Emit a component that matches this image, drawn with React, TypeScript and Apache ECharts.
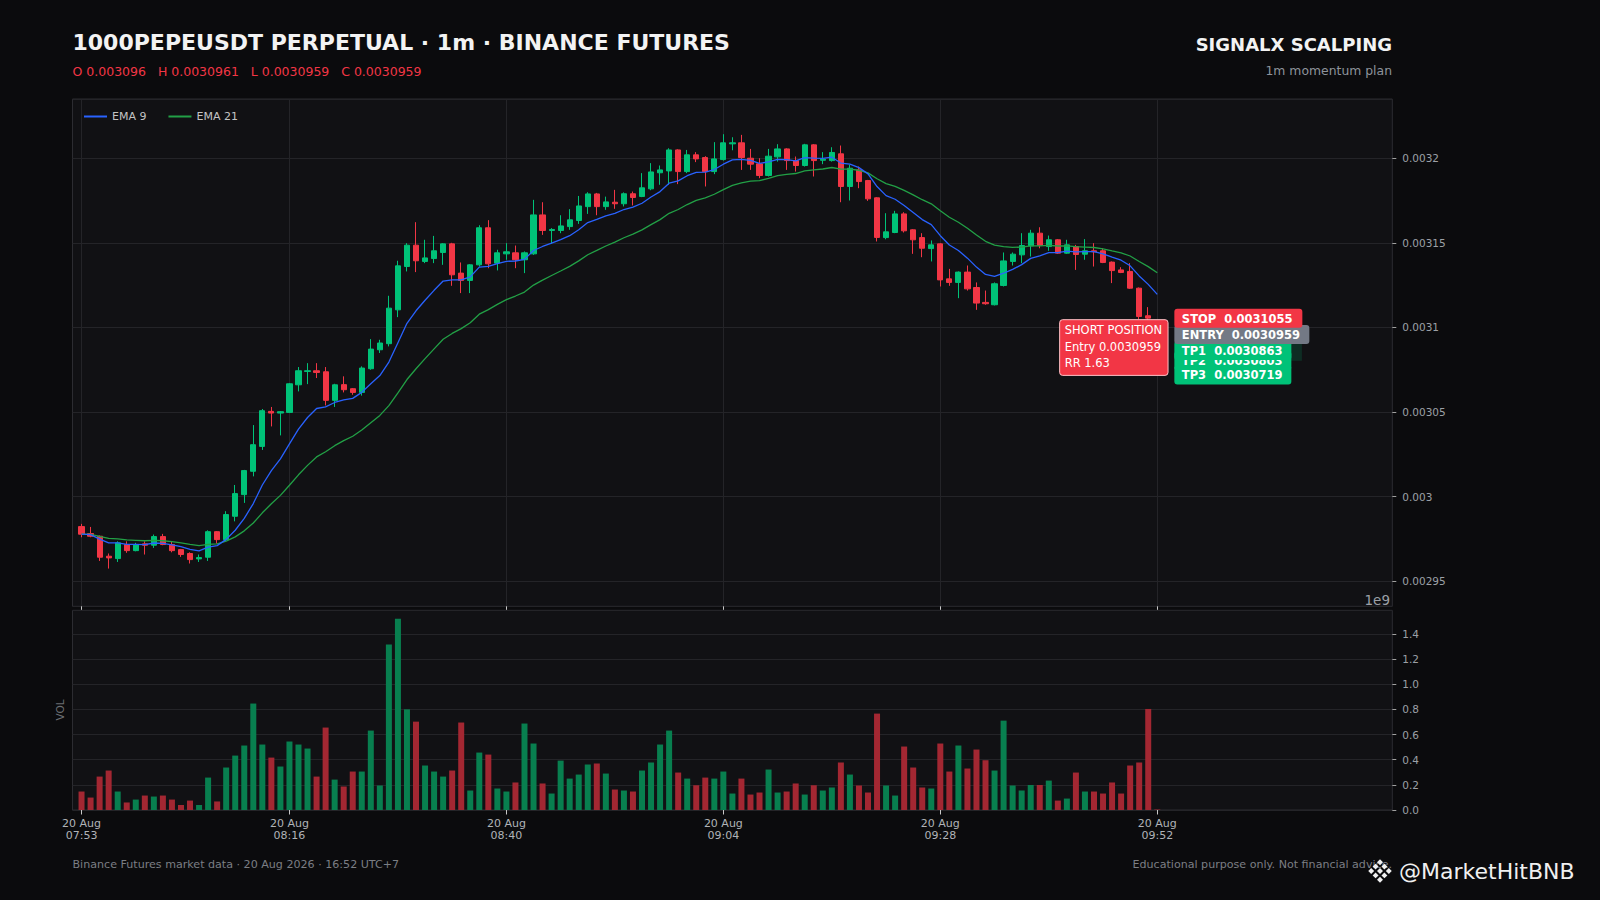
import React, { useEffect, useRef } from 'react';
import * as echarts from 'echarts';

// ---------------- DATA ----------------
const OPEN = [
  0.0029823, 0.0029782, 0.0029766, 0.0029648, 0.0029634, 0.0029717, 0.0029681, 0.0029721, 0.0029713, 0.0029764,
  0.0029717, 0.0029687, 0.0029664, 0.0029632, 0.0029642, 0.0029793, 0.0029746, 0.0029884, 0.0030012, 0.003015,
  0.0030297, 0.0030504, 0.0030494, 0.0030498, 0.0030661, 0.003074, 0.0030744, 0.0030738, 0.0030569, 0.0030662,
  0.0030638, 0.0030616, 0.0030756, 0.0030868, 0.0030904, 0.0031104, 0.003136, 0.0031486, 0.003139, 0.0031407,
  0.0031443, 0.0031494, 0.0031321, 0.0031278, 0.003137, 0.0031589, 0.003138, 0.0031435, 0.0031441, 0.00314,
  0.0031435, 0.0031665, 0.0031573, 0.0031573, 0.0031596, 0.0031632, 0.0031714, 0.0031789, 0.0031714, 0.003174,
  0.0031731, 0.003179, 0.0031774, 0.0031819, 0.0031914, 0.0031925, 0.0032049, 0.0031921, 0.003202, 0.0032004,
  0.0031921, 0.0031992, 0.0032085, 0.0032091, 0.0032, 0.0031967, 0.0031898, 0.0032008, 0.0032055, 0.0031986,
  0.0031957, 0.0032079, 0.0031988, 0.0031986, 0.0032026, 0.0031833, 0.0031931, 0.0031868, 0.0031766, 0.0031531,
  0.0031561, 0.0031671, 0.0031577, 0.0031531, 0.0031466, 0.0031494, 0.0031287, 0.0031266, 0.0031327, 0.0031236,
  0.0031148, 0.0031134, 0.0031248, 0.003139, 0.0031429, 0.0031482, 0.0031557, 0.0031478, 0.0031518, 0.0031439,
  0.0031478, 0.0031433, 0.0031453, 0.0031453, 0.0031386, 0.003134, 0.0031331, 0.0031232, 0.0031069, 0.003096,
];
const HIGH = [
  0.0029839, 0.0029821, 0.002977, 0.0029664, 0.0029736, 0.0029736, 0.0029727, 0.0029736, 0.0029776, 0.002978,
  0.0029736, 0.0029691, 0.0029671, 0.0029658, 0.0029801, 0.0029797, 0.0029914, 0.0030069, 0.0030158, 0.0030423,
  0.0030518, 0.003053, 0.0030506, 0.0030671, 0.0030766, 0.0030789, 0.0030789, 0.0030766, 0.0030667, 0.0030711,
  0.0030642, 0.003077, 0.0030931, 0.0030927, 0.0031187, 0.0031394, 0.0031498, 0.0031622, 0.0031518, 0.0031541,
  0.0031498, 0.00315, 0.0031384, 0.0031374, 0.0031604, 0.0031634, 0.0031459, 0.0031498, 0.0031484, 0.0031449,
  0.0031754, 0.003174, 0.0031587, 0.0031663, 0.0031699, 0.0031777, 0.0031799, 0.0031795, 0.0031773, 0.0031813,
  0.0031798, 0.0031803, 0.0031912, 0.0031971, 0.0031957, 0.0032059, 0.0032053, 0.0032049, 0.0032036, 0.0032012,
  0.0032095, 0.0032142, 0.0032124, 0.0032138, 0.0032055, 0.0032, 0.0032055, 0.0032083, 0.0032059, 0.003201,
  0.0032085, 0.0032083, 0.0032036, 0.0032065, 0.0032075, 0.0031961, 0.0031951, 0.0031872, 0.003177, 0.0031675,
  0.0031689, 0.0031681, 0.0031581, 0.0031557, 0.0031514, 0.0031498, 0.0031346, 0.0031331, 0.0031366, 0.0031266,
  0.0031218, 0.0031266, 0.0031443, 0.0031443, 0.0031557, 0.0031577, 0.0031592, 0.0031543, 0.0031522, 0.0031518,
  0.0031488, 0.0031522, 0.0031498, 0.0031468, 0.003139, 0.0031356, 0.003138, 0.0031236, 0.003112, 0.0030961,
];
const LOW = [
  0.002976, 0.002976, 0.002962, 0.0029575, 0.0029614, 0.0029668, 0.0029677, 0.0029658, 0.0029697, 0.0029713,
  0.0029671, 0.0029644, 0.0029605, 0.0029614, 0.002962, 0.0029723, 0.0029736, 0.0029854, 0.0029963, 0.003012,
  0.0030276, 0.0030415, 0.0030362, 0.0030494, 0.0030622, 0.0030665, 0.0030701, 0.0030539, 0.003053, 0.0030616,
  0.0030602, 0.0030597, 0.003075, 0.0030849, 0.0030888, 0.0031061, 0.0031331, 0.0031327, 0.003138, 0.003138,
  0.003137, 0.0031246, 0.0031203, 0.0031203, 0.003136, 0.003135, 0.0031337, 0.00314, 0.003135, 0.0031321,
  0.0031429, 0.0031547, 0.0031494, 0.0031557, 0.0031577, 0.0031612, 0.0031671, 0.0031663, 0.0031695, 0.0031701,
  0.0031715, 0.0031721, 0.003177, 0.0031811, 0.0031843, 0.0031843, 0.0031847, 0.0031912, 0.0031977, 0.0031833,
  0.0031906, 0.0031986, 0.0032047, 0.0031931, 0.0031931, 0.0031882, 0.0031892, 0.003198, 0.0031931, 0.0031921,
  0.0031951, 0.0031892, 0.0031965, 0.003198, 0.003174, 0.003175, 0.0031823, 0.0031748, 0.0031508, 0.0031521,
  0.0031557, 0.0031561, 0.0031435, 0.0031415, 0.003139, 0.0031242, 0.0031246, 0.0031173, 0.0031218, 0.0031104,
  0.0031134, 0.003113, 0.0031242, 0.0031366, 0.003138, 0.0031419, 0.0031468, 0.0031453, 0.0031435, 0.0031435,
  0.003134, 0.00314, 0.003136, 0.003138, 0.0031262, 0.0031321, 0.0031228, 0.0031049, 0.0031045, 0.0030959,
];
const CLOSE = [
  0.0029778, 0.0029766, 0.0029642, 0.0029638, 0.0029727, 0.0029681, 0.0029717, 0.0029713, 0.0029764, 0.0029717,
  0.0029681, 0.0029658, 0.0029628, 0.002964, 0.0029793, 0.0029746, 0.0029894, 0.0030018, 0.0030154, 0.0030307,
  0.0030508, 0.0030494, 0.0030502, 0.0030667, 0.0030744, 0.0030744, 0.0030734, 0.0030569, 0.0030661, 0.0030632,
  0.0030616, 0.003076, 0.0030872, 0.0030908, 0.0031114, 0.0031364, 0.0031486, 0.0031394, 0.0031411, 0.0031453,
  0.0031494, 0.0031311, 0.0031278, 0.003137, 0.0031589, 0.0031376, 0.0031441, 0.0031447, 0.00314, 0.0031441,
  0.0031665, 0.0031573, 0.0031579, 0.00316, 0.0031636, 0.0031718, 0.0031789, 0.0031714, 0.0031742, 0.0031731,
  0.003179, 0.0031768, 0.0031825, 0.0031919, 0.0031931, 0.0032049, 0.0031921, 0.003202, 0.0031996, 0.0031921,
  0.0031996, 0.0032091, 0.0032091, 0.0032004, 0.0031965, 0.0031898, 0.0032012, 0.0032055, 0.0031986, 0.0031957,
  0.0032079, 0.0031986, 0.0031994, 0.0032034, 0.0031833, 0.0031941, 0.0031862, 0.003176, 0.0031532, 0.0031565,
  0.0031671, 0.0031571, 0.0031518, 0.0031468, 0.0031488, 0.0031281, 0.0031266, 0.0031327, 0.0031228, 0.0031144,
  0.003114, 0.0031258, 0.0031393, 0.0031433, 0.0031484, 0.0031557, 0.0031484, 0.0031518, 0.0031439, 0.0031488,
  0.0031431, 0.0031453, 0.0031447, 0.0031384, 0.0031336, 0.0031325, 0.0031232, 0.0031065, 0.0031055, 0.0030959,
];
// volume in billions (axis offset 1e9)
const VOLUME = [
  0.147, 0.099, 0.266, 0.314, 0.147, 0.06, 0.083, 0.115, 0.107, 0.115,
  0.083, 0.04, 0.075, 0.04, 0.258, 0.068, 0.338, 0.433, 0.513, 0.847,
  0.521, 0.417, 0.346, 0.545, 0.521, 0.489, 0.266, 0.656, 0.242, 0.187,
  0.306, 0.306, 0.632, 0.195, 1.316, 1.522, 0.801, 0.703, 0.354, 0.306,
  0.266, 0.314, 0.696, 0.155, 0.457, 0.441, 0.171, 0.147, 0.219, 0.688,
  0.529, 0.211, 0.131, 0.393, 0.25, 0.282, 0.362, 0.37, 0.29, 0.163,
  0.155, 0.147, 0.314, 0.378, 0.521, 0.632, 0.298, 0.25, 0.197, 0.258,
  0.25, 0.306, 0.131, 0.25, 0.123, 0.139, 0.322, 0.139, 0.147, 0.211,
  0.123, 0.197, 0.155, 0.179, 0.378, 0.282, 0.195, 0.139, 0.767, 0.195,
  0.115, 0.505, 0.338, 0.179, 0.171, 0.529, 0.306, 0.513, 0.33, 0.481,
  0.396, 0.314, 0.711, 0.195, 0.155, 0.199, 0.199, 0.234, 0.075, 0.091,
  0.298, 0.147, 0.147, 0.131, 0.219, 0.131, 0.354, 0.378, 0.804, 0.004,
];
const TICK_INDEX = [0, 23, 47, 71, 95, 119];
const TICK_LABELS = ['20 Aug\n07:53', '20 Aug\n08:16', '20 Aug\n08:40', '20 Aug\n09:04', '20 Aug\n09:28', '20 Aug\n09:52'];
const SLOT_FIRST = -1; // empty slot before the first candle
const SLOT_LAST = 145; // future slots after the last candle
const STOP = 0.0031055;
const ENTRY = 0.0030959;
const TP1 = 0.0030863;
const TP2 = 0.0030803;
const TP3 = 0.0030719;
const RR = '1.63';
const ZONE_FROM = 121;
const ZONE_TO = 135;
const PRICE_MIN = 0.0029352;
const PRICE_MAX = 0.003235;
const VOL_MAX = 1.589;

// ---------------- STYLE ----------------
const FONT = '"DejaVu Sans", Verdana, sans-serif';
const GREEN = '#00c278';
const RED = '#f23645';
const GREY_BOX = '#737985';
const VOL_G = '#087f4f';
const VOL_R = '#a32732';
const BG = '#0b0b0d';
const PANEL = '#111114';
const BORDER = '#2c2c31';
const GRIDC = '#242428';

function ema(src: number[], n: number): number[] {
  const k = 2 / (n + 1);
  const out: number[] = [];
  let prev = src[0];
  src.forEach((v, i) => {
    prev = i === 0 ? v : v * k + prev * (1 - k);
    out.push(prev);
  });
  return out;
}

const slots: string[] = [];
for (let s = SLOT_FIRST; s <= SLOT_LAST; s++) slots.push(String(s));
const slotOf = (i: number) => i - SLOT_FIRST;
const isTick = (index: number) => TICK_INDEX.includes(index + SLOT_FIRST);

function buildOption(): any {
  const ema9 = ema(CLOSE, 9);
  const ema21 = ema(CLOSE, 21);
  const candles = OPEN.map((o, i) => [slotOf(i), o, CLOSE[i], LOW[i], HIGH[i]]);
  const vols = VOLUME.map((v, i) => ({
    value: [slotOf(i), v],
    itemStyle: { color: CLOSE[i] >= OPEN[i] ? VOL_G : VOL_R },
  }));
  const xBase = {
    type: 'category',
    data: slots,
    boundaryGap: false,
    axisLine: { show: false },
    axisPointer: { show: false },
  };
  return {
    animation: false,
    backgroundColor: BG,
    textStyle: { fontFamily: FONT },
    legend: {
      left: 79,
      top: 106,
      icon: 'rect',
      itemWidth: 23,
      itemHeight: 2,
      itemGap: 22,
      textStyle: { color: '#c4c4c4', fontSize: 11, fontFamily: FONT },
      data: ['EMA 9', 'EMA 21'],
      selectedMode: false,
    },
    grid: [
      { left: 72.5, top: 99, width: 1319.8, height: 507.3, show: true, backgroundColor: PANEL, borderColor: BORDER, borderWidth: 1, containLabel: false, outerBoundsMode: 'none' },
      { left: 72.5, top: 610.3, width: 1319.8, height: 199.7, show: true, backgroundColor: PANEL, borderColor: BORDER, borderWidth: 1, containLabel: false, outerBoundsMode: 'none' },
    ],
    xAxis: [
      {
        ...xBase,
        gridIndex: 0,
        axisTick: { show: true, interval: isTick, length: 3.5, lineStyle: { color: '#c8c8c8' } },
        axisLabel: { show: false, interval: isTick },
        splitLine: { show: true, interval: isTick, lineStyle: { color: GRIDC, width: 1 } },
      },
      {
        ...xBase,
        gridIndex: 1,
        axisTick: { show: true, interval: isTick, length: 4.5, lineStyle: { color: '#c8c8c8' } },
        axisLabel: {
          show: true,
          interval: isTick,
          color: '#b0b3b8',
          fontSize: 11,
          lineHeight: 11.5,
          margin: 8,
          fontFamily: FONT,
          formatter: (v: string) => {
            const k = TICK_INDEX.indexOf(Number(v));
            return k >= 0 ? TICK_LABELS[k] : '';
          },
        },
        splitLine: { show: false },
      },
    ],
    yAxis: [
      {
        type: 'value',
        gridIndex: 0,
        position: 'right',
        min: PRICE_MIN,
        max: PRICE_MAX,
        splitNumber: 6,
        axisLine: { show: false },
        axisTick: { show: true, length: 4, lineStyle: { color: '#a0a0a0' } },
        axisLabel: {
          color: '#9ca0a6',
          fontSize: 10.5,
          margin: 10,
          fontFamily: FONT,
          showMinLabel: false,
          showMaxLabel: false,
          formatter: (v: number) => String(parseFloat(v.toPrecision(6))),
        },
        splitLine: { show: true, lineStyle: { color: GRIDC } },
      },
      {
        type: 'value',
        gridIndex: 1,
        position: 'right',
        min: 0,
        max: VOL_MAX,
        interval: 0.2,
        axisLine: { show: false },
        axisTick: { show: true, length: 4, lineStyle: { color: '#a0a0a0' } },
        axisLabel: {
          color: '#9ca0a6',
          fontSize: 10.5,
          margin: 10,
          fontFamily: FONT,
          showMaxLabel: false,
          formatter: (v: number) => v.toFixed(1),
        },
        splitLine: { show: true, lineStyle: { color: GRIDC } },
      },
    ],
    series: [
      {
        type: 'candlestick',
        name: 'price',
        xAxisIndex: 0,
        yAxisIndex: 0,
        data: candles,
        encode: { x: 0, y: [1, 2, 3, 4] },
        barWidth: 5.7,
        itemStyle: { color: GREEN, color0: RED, borderColor: GREEN, borderColor0: RED, borderWidth: 1 },
        z: 2,
        markLine: {
          silent: true,
          symbol: ['none', 'none'],
          label: { show: false },
          data: [
            { yAxis: STOP, lineStyle: { color: RED, type: [5, 4], width: 1, opacity: 0.9 } },
            { yAxis: ENTRY, lineStyle: { color: '#e8e8e8', type: [4, 2], width: 1.2, opacity: 0.95 } },
            { yAxis: TP1, lineStyle: { color: GREEN, type: [5, 4], width: 1, opacity: 0.75 } },
            { yAxis: TP2, lineStyle: { color: GREEN, type: [5, 4], width: 1, opacity: 0.75 } },
            { yAxis: TP3, lineStyle: { color: GREEN, type: [5, 4], width: 1, opacity: 0.75 } },
          ],
        },
        markArea: {
          silent: true,
          itemStyle: { color: 'rgba(0,194,120,0.16)' },
          data: [[{ coord: [slotOf(ZONE_FROM), ENTRY] }, { coord: [slotOf(ZONE_TO), TP2] }]],
        },
      },
      {
        type: 'line',
        name: 'EMA 9',
        xAxisIndex: 0,
        yAxisIndex: 0,
        data: ema9.map((v, i) => [slotOf(i), v]),
        symbol: 'none',
        lineStyle: { color: '#2962ff', width: 1.3 },
        itemStyle: { color: '#2962ff' },
        z: 4,
      },
      {
        type: 'line',
        name: 'EMA 21',
        xAxisIndex: 0,
        yAxisIndex: 0,
        data: ema21.map((v, i) => [slotOf(i), v]),
        symbol: 'none',
        lineStyle: { color: '#22a046', width: 1.3 },
        itemStyle: { color: '#22a046' },
        z: 3,
      },
      {
        type: 'bar',
        name: 'volume',
        xAxisIndex: 1,
        yAxisIndex: 1,
        data: vols,
        barWidth: 6,
      },
    ],
  };
}

function txt(text: string, x: number, y: number, size: number, fill: string, opts: any = {}): any {
  return {
    type: 'text',
    z: opts.z ?? 50,
    rotation: opts.rotation ?? 0,
    x: opts.rotation ? x : 0,
    y: opts.rotation ? y : 0,
    style: {
      text,
      x: opts.rotation ? 0 : x,
      y: opts.rotation ? 0 : y,
      fill,
      fontSize: size,
      fontWeight: opts.bold ? 'bold' : 'normal',
      fontFamily: FONT,
      align: opts.align ?? 'left',
      verticalAlign: 'middle',
      opacity: opts.opacity ?? 1,
    },
  };
}

function buildGraphic(chart: any): any[] {
  const px = (i: number, v: number) => chart.convertToPixel({ gridIndex: 0 }, [slotOf(i), v]) as number[];
  const n = CLOSE.length;
  const els: any[] = [];

  // header
  els.push(txt('1000PEPEUSDT PERPETUAL · 1m · BINANCE FUTURES', 72.5, 42.5, 22, '#f3f3f3', { bold: true }));
  els.push(txt(`O ${OPEN[n - 1]}   H ${HIGH[n - 1]}   L ${LOW[n - 1]}   C ${CLOSE[n - 1]}`, 72.5, 71.5, 12.5, RED));
  els.push(txt('SIGNALX SCALPING', 1392, 44, 18, '#f3f3f3', { bold: true, align: 'right' }));
  els.push(txt('1m momentum plan', 1392, 70, 12.4, '#8e939b', { align: 'right' }));

  // footer
  els.push(txt('Binance Futures market data · 20 Aug 2026 · 16:52 UTC+7', 72.5, 864.5, 11.1, '#7b7e84'));
  els.push(txt('Educational purpose only. Not financial advice.', 1392, 864.5, 11.1, '#7b7e84', { align: 'right' }));

  // axis extras
  els.push(txt('1e9', 1390, 600, 13.5, '#9ca0a6', { align: 'right' }));
  els.push(txt('VOL', 60, 710, 10.5, '#6b6e73', { align: 'center', rotation: Math.PI / 2 }));

  // level labels
  const labelX = px(ZONE_FROM, ENTRY)[0] - 1;
  const boxH = 19;
  const boxes = [
    { text: `TP2  ${TP2.toFixed(7)}`, v: TP2, bg: GREEN, w: 117 },
    { text: `TP3  ${TP3.toFixed(7)}`, v: TP3, bg: GREEN, w: 117 },
    { text: `TP1  ${TP1.toFixed(7)}`, v: TP1, bg: GREEN, w: 117 },
    { text: `ENTRY  ${ENTRY.toFixed(7)}`, v: ENTRY, bg: GREY_BOX, w: 135 },
    { text: `STOP  ${STOP.toFixed(7)}`, v: STOP, bg: RED, w: 128 },
  ];
  boxes.forEach((b, k) => {
    const y = px(ZONE_FROM, b.v)[1];
    els.push({
      type: 'rect',
      z: 100 + k * 2,
      shape: { x: labelX, y: y - boxH / 2, width: b.w, height: boxH, r: 3 },
      style: { fill: b.bg },
    });
    els.push(txt(b.text, labelX + 7.5, y + 0.5, 11.5, '#ffffff', { bold: true, z: 101 + k * 2 }));
  });

  // position box
  const ey = px(ZONE_FROM, ENTRY)[1];
  const bw = 108.4;
  const bx = labelX - 6.3 - bw;
  els.push({
    type: 'rect',
    z: 90,
    shape: { x: bx, y: ey - 14.7, width: bw, height: 55.7, r: 3 },
    style: { fill: RED, stroke: '#ffc0c6', lineWidth: 1 },
  });
  els.push(txt('SHORT POSITION', bx + 5, ey - 4.5, 11.5, '#ffffff', { z: 91 }));
  els.push(txt(`Entry ${ENTRY.toFixed(7)}`, bx + 5, ey + 12.8, 11.5, '#ffffff', { z: 91 }));
  els.push(txt(`RR ${RR}`, bx + 5, ey + 28.4, 11.5, '#ffffff', { z: 91 }));

  // watermark
  const cx = 1380, cy = 871;
  const d = 4.4;
  [[0, -2], [-1, -1], [1, -1], [-2, 0], [0, 0], [2, 0], [-1, 1], [1, 1], [0, 2]].forEach(([a, b]) => {
    els.push({
      type: 'rect',
      z: 120,
      x: cx + a * d,
      y: cy + b * d,
      rotation: Math.PI / 4,
      shape: { x: -2.1, y: -2.1, width: 4.2, height: 4.2 },
      style: { fill: '#f0f0f0' },
    });
  });
  els.push(txt('@MarketHitBNB', 1399, 871.5, 22, '#f0f0f0', { z: 120 }));
  return els;
}

export default function App() {
  const ref = useRef<HTMLDivElement>(null);
  useEffect(() => {
    if (!ref.current) return;
    const chart = echarts.init(ref.current, null, { renderer: 'svg' });
    chart.setOption(buildOption());
    chart.setOption({ graphic: { elements: buildGraphic(chart) } });
    return () => chart.dispose();
  }, []);
  return (
    <div style={{ position: 'fixed', left: 0, top: 0, width: 1600, height: 900, background: BG }}>
      <div ref={ref} style={{ width: 1600, height: 900 }} />
    </div>
  );
}
